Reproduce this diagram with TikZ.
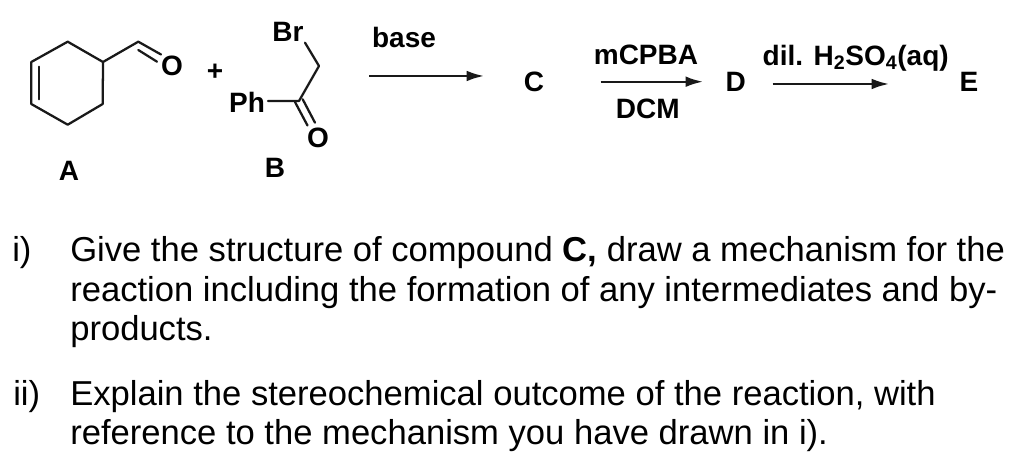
\documentclass[tikz,border=0pt]{standalone}
\usepackage{fontspec}
\setmainfont{Liberation Sans}
\usetikzlibrary{arrows.meta}
\tikzset{
  bond/.style={line width=1.7pt,line cap=round,line join=round,draw=black!90},
  rxn/.style={line width=1.7pt,draw=black!90,-{Latex[length=13pt,width=8pt,inset=3pt]}},
  chem/.style={inner sep=0pt,font=\fontsize{21}{24}\selectfont\bfseries},
  body/.style={inner sep=0pt,anchor=base west,font=\fontsize{25.95}{29}\selectfont}
}
\begin{document}
\begin{tikzpicture}[x=0.75pt,y=-0.75pt]
\useasboundingbox (0,0) rectangle (1024,473);
% compound A
\coordinate (a1) at (67.7,41.7);
\coordinate (a2) at (103,62);
\coordinate (a3) at (102.7,104);
\coordinate (a4) at (67.7,124.7);
\coordinate (a5) at (31.3,104);
\coordinate (a6) at (31.3,62);
\coordinate (a7) at (138.3,41.7);
\coordinate (d1) at (39.3,66.7);
\coordinate (d2) at (39.3,99.3);
\coordinate (o1a) at (161,54.5);
\coordinate (o1b) at (157,61.7);
\coordinate (o1c) at (138.3,50);
\draw[bond] (a1) -- (a2) -- (a3) -- (a4) -- (a5) -- (a6) -- cycle;
\draw[bond] (d1) -- (d2);
\draw[bond] (a2) -- (a7) -- (o1a);
\draw[bond] (o1c) -- (o1b);
\node[chem] (oa) at (172,66) {O};
\node[chem] (plus) at (215,72.7) {+};
% compound B
\node[chem] (br) at (288,31.7) {Br};
\node[chem] (ph) at (247,102) {Ph};
\node[chem] (ob) at (318,137.5) {O};
\coordinate (b1) at (305,42.7);
\coordinate (b2) at (319,66);
\coordinate (b3) at (299,101);
\coordinate (b4) at (268,101);
\coordinate (b5) at (295,102);
\coordinate (b6) at (307.5,125.5);
\coordinate (b7) at (302.7,99.3);
\coordinate (b8) at (315,122.7);
\draw[bond] (b1) -- (b2) -- (b3) -- (b4);
\draw[bond] (b5) -- (b6);
\draw[bond] (b7) -- (b8);
\node[chem] (la) at (69,171) {A};
\node[chem] (lb) at (275,168) {B};
% scheme
\node[chem] (base) at (404,37.5) {base};
\node[chem] (c) at (534,81.7) {C};
\node[chem] (mc) at (646,55) {mCPBA};
\node[chem] (dcm) at (647.7,108.5) {DCM};
\node[chem] (d) at (735.7,81.7) {D};
\node[chem] (dil) at (855.7,58) {dil. H\textsubscript{2}SO\textsubscript{4}(aq)};
\node[chem] (e) at (969,82) {E};
\coordinate (r1a) at (369,76);
\coordinate (r1b) at (484,76);
\coordinate (r2a) at (600.7,81.7);
\coordinate (r2b) at (703,81.7);
\coordinate (r3a) at (772.7,84);
\coordinate (r3b) at (889,84);
\draw[rxn] (r1a) -- (r1b);
\draw[rxn] (r2a) -- (r2b);
\draw[rxn] (r3a) -- (r3b);
% questions
\node[body] (q1) at (12,262) {i)};
\node[body] (t1) at (70,262) {Give the structure of compound \textbf{C,} draw a mechanism for the};
\node[body] (t2) at (70,301.5) {reaction including the formation of any intermediates and by-};
\node[body] (t3) at (70,340.5) {products.};
\node[body] (q2) at (13,406) {ii)};
\node[body] (t4) at (70,406) {Explain the stereochemical outcome of the reaction, with};
\node[body] (t5) at (70,445) {reference to the mechanism you have drawn in i).};
\end{tikzpicture}
\end{document}
